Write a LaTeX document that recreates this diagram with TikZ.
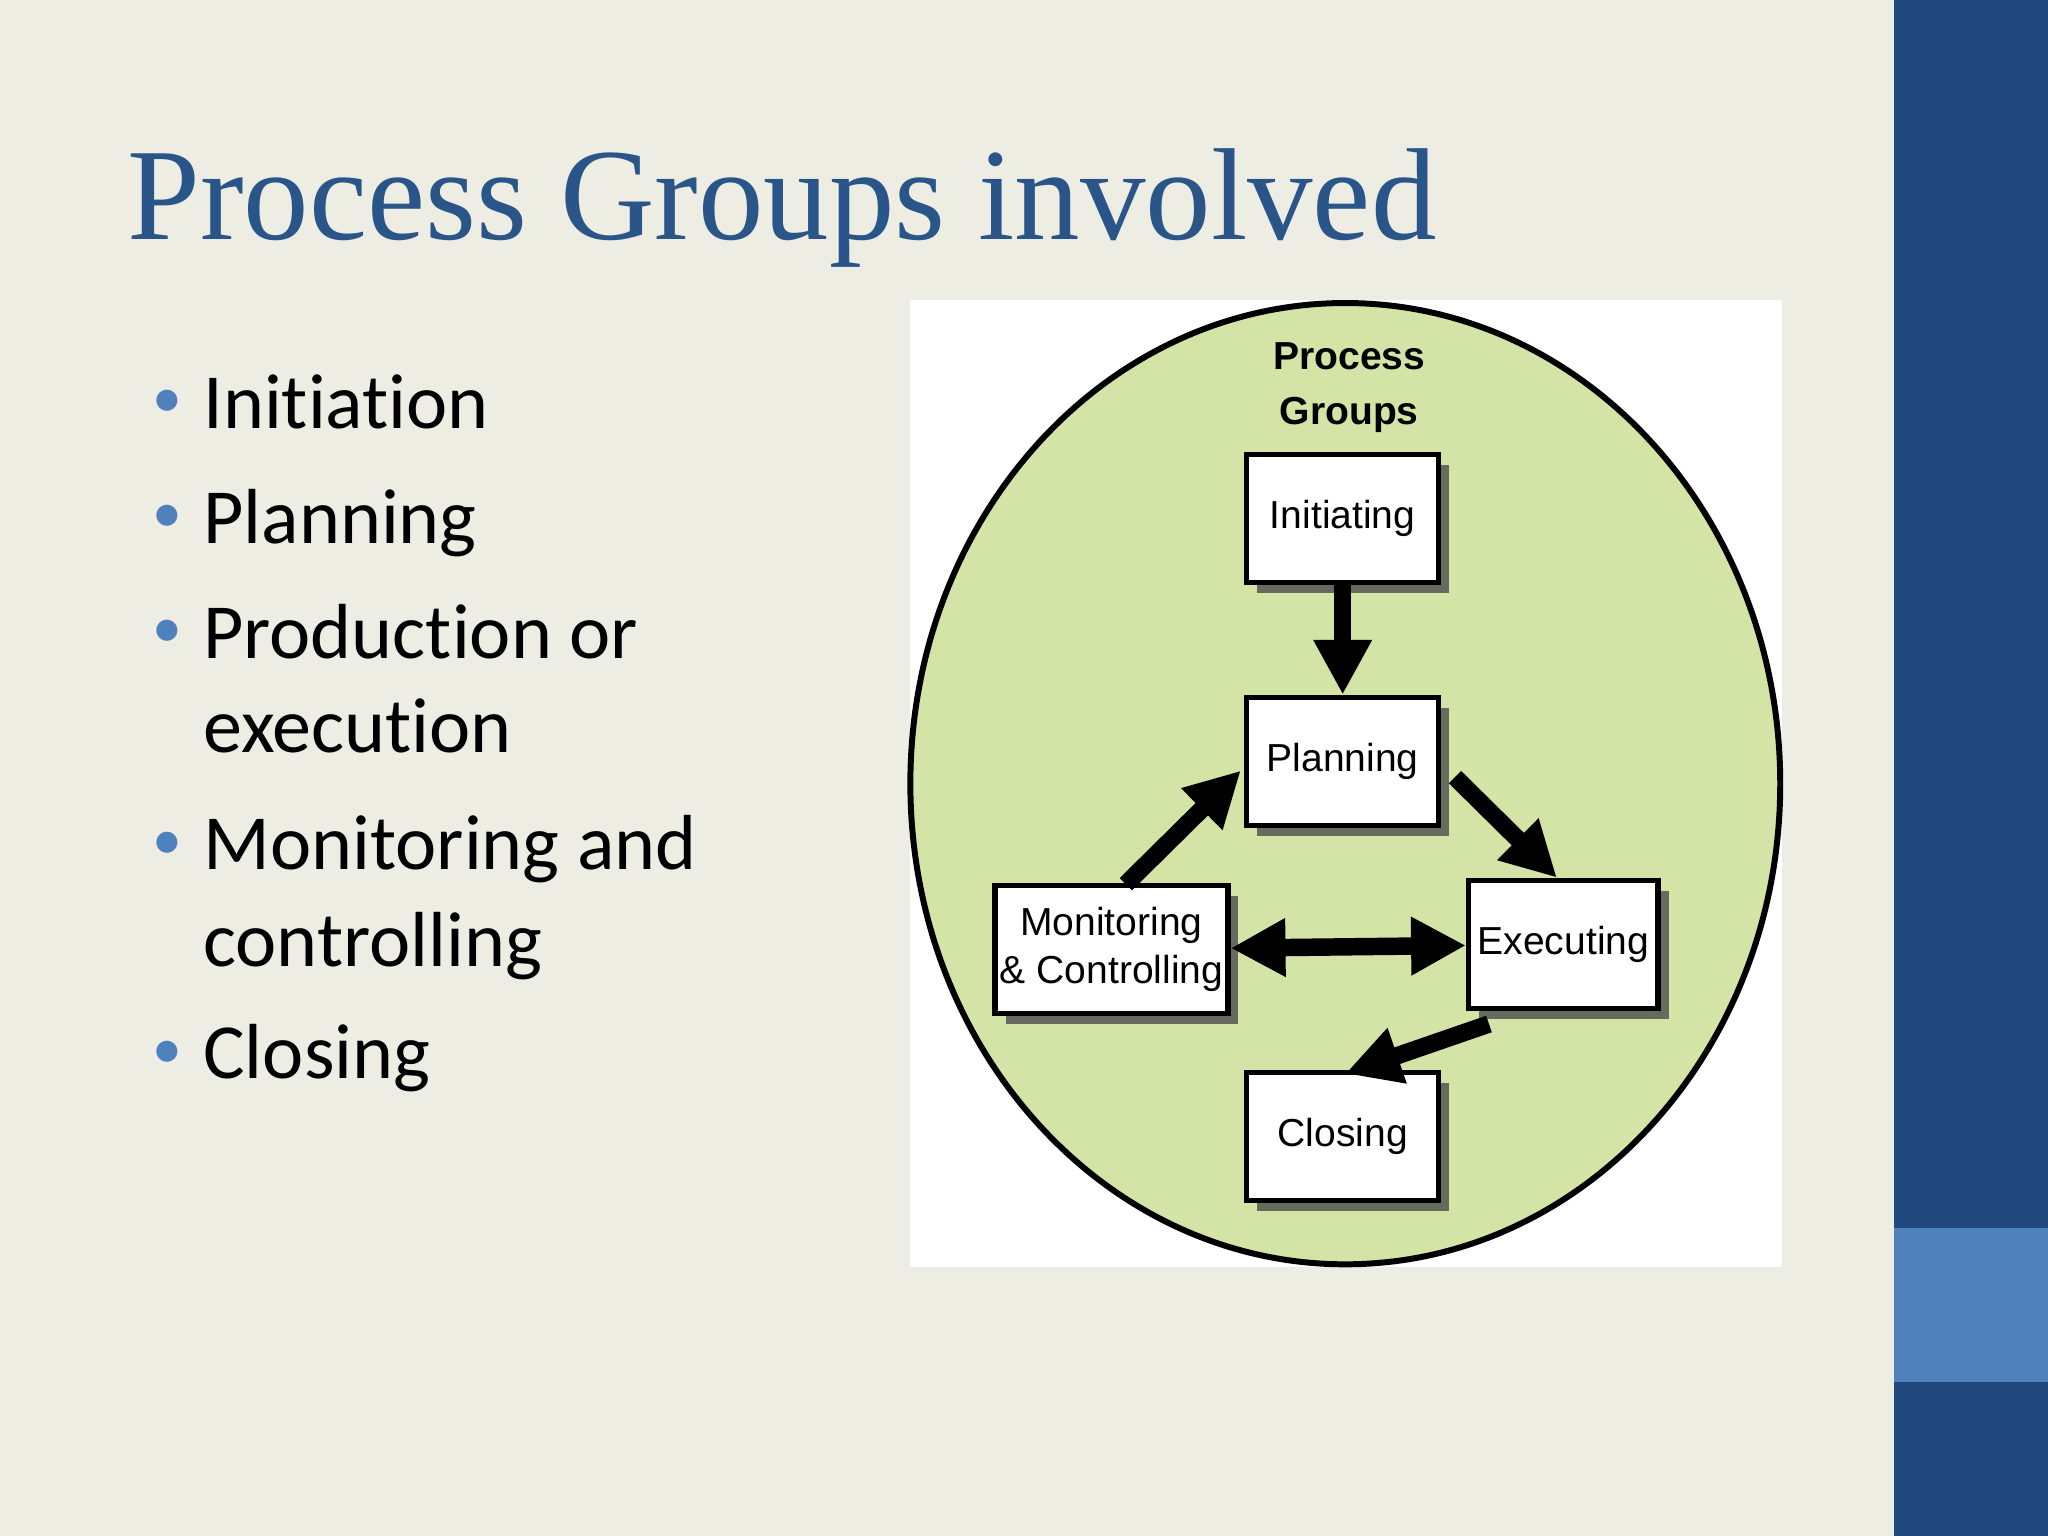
\documentclass[tikz,border=0pt]{standalone}
\usepackage{fontspec}
\setmainfont{Carlito}[Ligatures={NoCommon}]
\newfontfamily\titlefont{Liberation Serif}
\newfontfamily\diafont{Liberation Sans}
\usetikzlibrary{arrows.meta,shadows,calc}
\definecolor{bg}{HTML}{EEEDE4}
\definecolor{darkblue}{HTML}{21497D}
\definecolor{midblue}{HTML}{4F81BD}
\definecolor{titleblue}{HTML}{2A5589}
\definecolor{green}{HTML}{D4E3A6}
\tikzset{
  pbox/.style={draw=black,line width=1.2pt,fill=white,minimum width=147*0.01cm,minimum height=98*0.01cm,inner sep=1pt,font=\diafont\fontsize{8.5}{10.5}\selectfont,align=center,
    drop shadow={shadow xshift=0.08cm,shadow yshift=-0.08cm,fill=black!70,opacity=0.8}},
  parr/.style={line width=3.8pt,-{Triangle[length=0.42cm,width=0.42cm]}},
  darr/.style={line width=3.8pt,{Triangle[length=0.42cm,width=0.42cm]}-{Triangle[length=0.42cm,width=0.42cm]}},
  bul/.style={anchor=base west,font=\fontsize{17}{20}\selectfont,inner sep=0},
}
\begin{document}
\begin{tikzpicture}[x=0.01cm,y=-0.01cm]
\useasboundingbox (0,0) rectangle (1568,1176);
\fill[bg] (0,0) rectangle (1450,1176);
\fill[darkblue] (1450,0) rectangle (1568,1176);
\fill[midblue] (1450,940) rectangle (1568,1058);
\node[anchor=base west,inner sep=0,text=titleblue,font=\titlefont\fontsize{28.5}{32}\selectfont] (title) at (97,183) {Process Groups involved};
\foreach \n/\y/\t in {a/328/Initiation,b/416/Planning,c/504/Production or,e/666/Monitoring and,g/826/Closing}{
  \node[bul,text=midblue,font=\fontsize{13}{16}\selectfont] (d\n) at (116,\y-8) {\textbullet};
  \node[bul] (t\n) at (155,\y) {\t};}
\node[bul] (tc2) at (155,576) {execution};
\node[bul] (te2) at (155,740) {controlling};
\fill[white] (697,230) rectangle (1364,970);
\draw[line width=1.3pt,fill=green] (1030,600) ellipse [x radius=333,y radius=368];
\node[font=\diafont\bfseries\fontsize{8.5}{12}\selectfont,align=center] (pg) at (1033,297) {Process\\Groups};
\node[pbox] (ini) at (1028,397) {Initiating};
\node[pbox] (pla) at (1028,583) {Planning};
\node[pbox,minimum width=172*0.01cm] (mon) at (851,727) {Monitoring\\\& Controlling};
\node[pbox,minimum width=145*0.01cm] (exe) at (1197,723) {Executing};
\node[pbox] (clo) at (1028,870) {Closing};
\coordinate (p1) at (1114,595);
\coordinate (e1) at (1192,672);
\coordinate (m1) at (862,677);
\coordinate (p2) at (950,590);
\coordinate (x1) at (1140,784);
\coordinate (c1) at (1030,822);
\draw[parr] (ini) -- (pla);
\draw[parr] (p1) -- (e1);
\draw[parr] (m1) -- (p2);
\draw[darr] (mon) -- (exe);
\draw[parr] (x1) -- (c1);
\end{tikzpicture}
\end{document}
